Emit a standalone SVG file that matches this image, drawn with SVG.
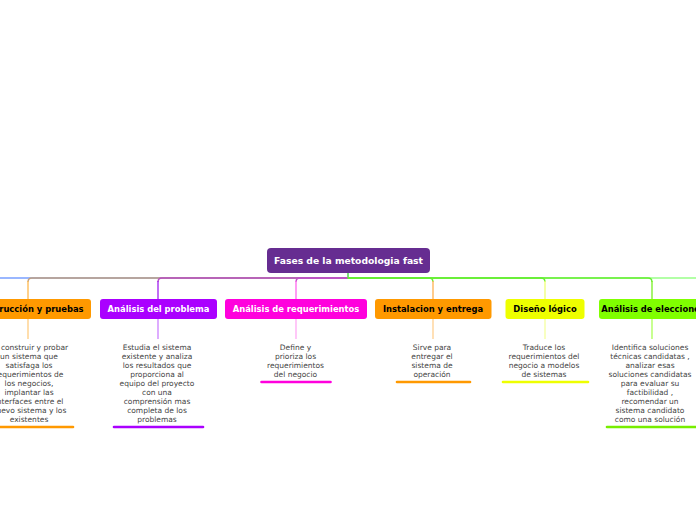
<svg xmlns="http://www.w3.org/2000/svg" width="696" height="520" viewBox="0 0 696 520">
<style>
.t{font-family:"DejaVu Sans",Verdana,sans-serif;text-anchor:middle}
.root{font-size:9.2px;font-weight:bold;fill:#fff}
.lbl{font-size:8.4px;font-weight:bold}
.d{font-size:7.5px;fill:#444}
.c{fill:none;stroke-width:1.3}
.u{stroke-width:2.6;stroke-linecap:round;fill:none}
</style>
<rect width="696" height="520" fill="#fff"/>
<g id="connectors">
<path class="c" stroke="#7aa0ff" d="M348,273 V278 H-10"/>
<path class="c" stroke="#c0a080" d="M348,278 H32 Q28,278 28,282"/>
<path class="c" stroke="#b84fc0" d="M348,278 H162 Q158,278 158,282"/>
<path class="c" stroke="#c050c8" d="M348,278 H300 Q296,278 296,282"/>
<path class="c" stroke="#99ff88" d="M348,278 H706"/>
<path class="c" stroke="#66ee33" d="M348,273 V278 H648 Q652,278 652,282"/>
<path class="c" stroke="#66ee33" d="M348,278 H429 Q433,278 433,282"/>
<path class="c" stroke="#66ee33" d="M348,278 H541 Q545,278 545,282"/>
<path class="c" stroke="#ffb84d" d="M28,281 V299"/>
<path class="c" stroke="#a020f0" d="M158,281 V299"/>
<path class="c" stroke="#ff66ee" d="M296,281 V299"/>
<path class="c" stroke="#ffb050" d="M433,281 V299"/>
<path class="c" stroke="#eeff77" d="M545,281 V299"/>
<path class="c" stroke="#77ee22" d="M652,281 V299"/>
<path class="c" stroke="#ffcc80" d="M28,319 V339"/>
<path class="c" stroke="#cc80ff" d="M158,319 V339"/>
<path class="c" stroke="#ffaaf5" d="M296,319 V339"/>
<path class="c" stroke="#ffd090" d="M433,319 V339"/>
<path class="c" stroke="#f5ffa0" d="M545,319 V339"/>
<path class="c" stroke="#aaff55" d="M652,319 V339"/>
</g>
<g id="root">
<rect x="267" y="248" width="163" height="25" rx="4" fill="#662d91"/>
<text class="t root" x="348.5" y="264.3">Fases de la metodologia fast</text>
</g>
<g id="n1">
<rect x="-35" y="299" width="126" height="20" rx="3" fill="#ff9900"/>
<text class="t lbl" x="28" y="312">Construcción y pruebas</text>
<text class="t d" x="29"><tspan x="29" y="349.5">Es construir y probar</tspan><tspan x="29" y="358.5">un sistema que</tspan><tspan x="29" y="367.5">satisfaga los</tspan><tspan x="29" y="376.5">requerimientos de</tspan><tspan x="29" y="385.5">los negocios,</tspan><tspan x="29" y="394.5">implantar las</tspan><tspan x="29" y="403.5">interfaces entre el</tspan><tspan x="29" y="412.5">nuevo sistema y los</tspan><tspan x="29" y="421.5">existentes</tspan></text>
<path class="u" stroke="#ff9900" d="M-20,427 H73"/>
</g>
<g id="n2">
<rect x="100" y="299" width="117" height="20" rx="3" fill="#aa00ff"/>
<text class="t lbl" x="158.5" y="312" fill="#fff">Análisis del problema</text>
<text class="t d"><tspan x="157" y="349.5">Estudia el sistema</tspan><tspan x="157" y="358.5">existente y analiza</tspan><tspan x="157" y="367.5">los resultados  que</tspan><tspan x="157" y="376.5">proporciona al</tspan><tspan x="157" y="385.5">equipo del proyecto</tspan><tspan x="157" y="394.5">con una</tspan><tspan x="157" y="403.5">comprensión mas</tspan><tspan x="157" y="412.5">completa de los</tspan><tspan x="157" y="421.5">problemas</tspan></text>
<path class="u" stroke="#aa00ff" d="M114,427 H203"/>
</g>
<g id="n3">
<rect x="225" y="299" width="142" height="20" rx="3" fill="#ff00dd"/>
<text class="t lbl" x="296" y="312" fill="#fff">Análisis de requerimientos</text>
<text class="t d"><tspan x="295.5" y="349.5">Define y</tspan><tspan x="295.5" y="358.5">prioriza los</tspan><tspan x="295.5" y="367.5">requerimientos</tspan><tspan x="295.5" y="376.5">del negocio</tspan></text>
<path class="u" stroke="#ff00dd" d="M261.5,382 H330.5"/>
</g>
<g id="n4">
<rect x="375" y="299" width="116.5" height="20" rx="3" fill="#ff9900"/>
<text class="t lbl" x="433" y="312">Instalacion y entrega</text>
<text class="t d"><tspan x="432" y="349.5">Sirve para</tspan><tspan x="432" y="358.5">entregar el</tspan><tspan x="432" y="367.5">sistema de</tspan><tspan x="432" y="376.5">operación</tspan></text>
<path class="u" stroke="#ff9900" d="M397,382 H470"/>
</g>
<g id="n5">
<rect x="505.5" y="299" width="79" height="20" rx="3" fill="#eeff00"/>
<text class="t lbl" x="545" y="312">Diseño lógico</text>
<text class="t d"><tspan x="544" y="349.5">Traduce los</tspan><tspan x="544" y="358.5">requerimientos del</tspan><tspan x="544" y="367.5">negocio a modelos</tspan><tspan x="544" y="376.5">de sistemas</tspan></text>
<path class="u" stroke="#eeff00" d="M503,382 H588"/>
</g>
<g id="n6">
<rect x="599" y="299" width="108" height="20" rx="3" fill="#80ff00"/>
<text class="t lbl" x="653" y="312">Análisis de elecciones</text>
<text class="t d"><tspan x="650" y="349.5">Identifica soluciones</tspan><tspan x="650" y="358.5">técnicas candidatas ,</tspan><tspan x="650" y="367.5">analizar esas</tspan><tspan x="650" y="376.5">soluciones candidatas</tspan><tspan x="650" y="385.5">para evaluar su</tspan><tspan x="650" y="394.5">factibilidad ,</tspan><tspan x="650" y="403.5">recomendar un</tspan><tspan x="650" y="412.5">sistema candidato</tspan><tspan x="650" y="421.5">como una solución</tspan></text>
<path class="u" stroke="#77ee00" d="M607,427 H700"/>
</g>
</svg>
